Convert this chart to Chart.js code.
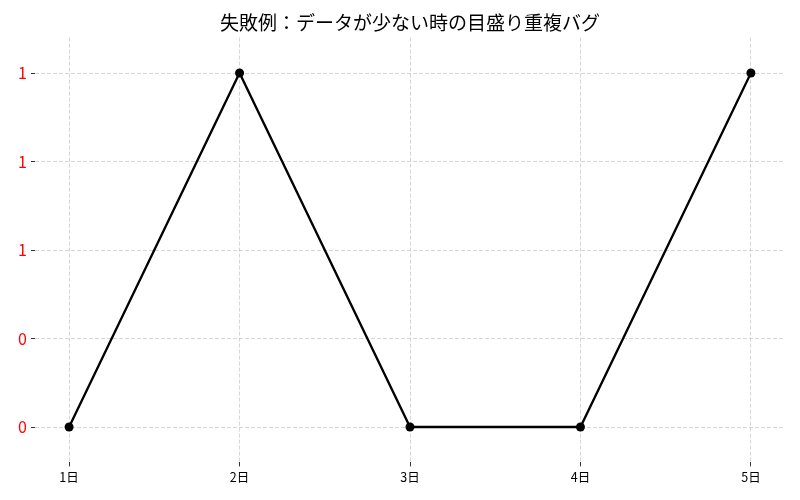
<!DOCTYPE html>
<html>
<head>
<meta charset="utf-8">
<script src="https://cdn.jsdelivr.net/npm/chart.js@4/dist/chart.umd.min.js"></script>
<style>
  html, body { margin: 0; padding: 0; background: #fff; }
  #wrap { width: 800px; height: 500px; }
</style>
</head>
<body>
<div id="wrap"><canvas id="chart"></canvas></div>
<script>
// Datos del gráfico
const days = ["1日", "2日", "3日", "4日", "5日"];
const values = [0, 1, 0, 0, 1];
const yTickValues = [0, 0.25, 0.5, 0.75, 1];
const titleText = "失敗例：データが少ない時の目盛り重複バグ";

const font = "'Noto Sans CJK JP', 'DejaVu Sans', sans-serif";

const points = values.map((v, i) => ({ x: i, y: v }));

// Título centrado sobre el área del gráfico (no sobre todo el lienzo)
const centeredTitle = {
  id: "centeredTitle",
  afterDraw(chart) {
    const { ctx, chartArea } = chart;
    ctx.save();
    ctx.font = `19px ${font}`;
    ctx.fillStyle = "#000";
    ctx.textAlign = "center";
    ctx.textBaseline = "middle";
    ctx.fillText(titleText, (chartArea.left + chartArea.right) / 2, chartArea.top - 15);
    ctx.restore();
  }
};

new Chart(document.querySelector("#chart"), {
  type: "line",
  data: {
    datasets: [{
      data: points,
      borderColor: "#000",
      backgroundColor: "#000",
      borderWidth: 2.3,
      pointRadius: 4.5,
      pointBackgroundColor: "#000",
      pointBorderWidth: 0,
      tension: 0
    }]
  },
  plugins: [centeredTitle],
  options: {
    responsive: true,
    maintainAspectRatio: false,
    animation: false,
    layout: { padding: { left: 0, right: 15, top: 37.6, bottom: 0 } },
    plugins: {
      legend: { display: false },
      tooltip: { enabled: false },
      title: { display: false }
    },
    scales: {
      x: {
        type: "linear",
        min: -0.2,
        max: 4.2,
        afterBuildTicks: (scale) => { scale.ticks = days.map((d, i) => ({ value: i })); },
        afterFit: (scale) => { scale.height = 37.6; },
        ticks: {
          color: "#000",
          font: { family: font, size: 12.5 },
          padding: 3,
          maxRotation: 0,
          callback: (value) => days[value]
        },
        grid: {
          color: "rgba(176,176,176,0.65)",
          lineWidth: 0.8,
          tickColor: "#000",
          tickLength: 4,
          tickWidth: 0.8,
          tickBorderDash: []
        },
        border: { display: false, dash: [4, 2] }
      },
      y: {
        min: -0.1,
        max: 1.1,
        afterBuildTicks: (scale) => { scale.ticks = yTickValues.map((v) => ({ value: v })); },
        afterFit: (scale) => { scale.width = 35; },
        ticks: {
          color: "#ff0000",
          font: { family: font, size: 16 },
          padding: 4,
          // Redondeo que provoca etiquetas repetidas
          callback: (value) => String(Math.round(value))
        },
        grid: {
          color: "rgba(176,176,176,0.65)",
          lineWidth: 0.8,
          tickColor: "#000",
          tickLength: 4,
          tickWidth: 0.8,
          tickBorderDash: []
        },
        border: { display: false, dash: [4, 2] }
      }
    }
  }
});
</script>
</body>
</html>
